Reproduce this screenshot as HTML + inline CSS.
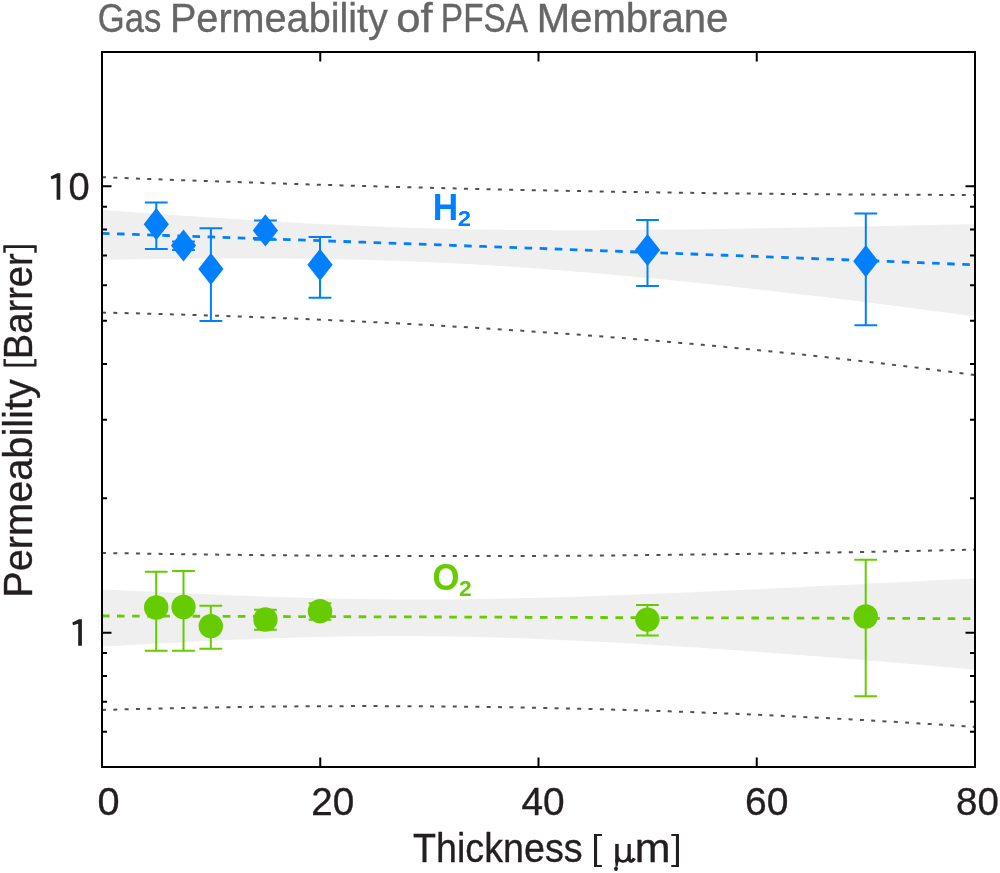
<!DOCTYPE html>
<html><head><meta charset="utf-8"><title>Gas Permeability of PFSA Membrane</title>
<style>
html,body{margin:0;padding:0;background:#fff;}
body{width:1000px;height:873px;overflow:hidden;}
svg{display:block;will-change:transform;font-family:"Liberation Sans",sans-serif;font-kerning:none;font-feature-settings:"kern" 0,"liga" 0;}
</style></head><body>
<svg width="1000" height="873" viewBox="0 0 1000 873">
<rect width="1000" height="873" fill="#fff"/>
<path d="M102 209.93 L107.46 210.32 L112.91 210.71 L118.37 211.1 L123.83 211.49 L129.28 211.88 L134.74 212.27 L140.19 212.65 L145.65 213.04 L151.11 213.42 L156.56 213.8 L162.02 214.18 L167.47 214.56 L172.93 214.94 L178.39 215.31 L183.84 215.68 L189.3 216.05 L194.76 216.42 L200.21 216.79 L205.67 217.15 L211.12 217.51 L216.58 217.87 L222.04 218.22 L227.49 218.58 L232.95 218.93 L238.41 219.27 L243.86 219.62 L249.32 219.96 L254.78 220.29 L260.23 220.63 L265.69 220.96 L271.14 221.28 L276.6 221.6 L282.06 221.92 L287.51 222.23 L292.97 222.54 L298.43 222.84 L303.88 223.14 L309.34 223.43 L314.79 223.72 L320.25 224 L325.71 224.28 L331.16 224.55 L336.62 224.82 L342.07 225.08 L347.53 225.33 L352.99 225.58 L358.44 225.82 L363.9 226.06 L369.36 226.29 L374.81 226.51 L380.27 226.73 L385.73 226.94 L391.18 227.14 L396.64 227.33 L402.09 227.52 L407.55 227.71 L413.01 227.88 L418.46 228.05 L423.92 228.21 L429.38 228.37 L434.83 228.52 L440.29 228.66 L445.74 228.79 L451.2 228.92 L456.66 229.04 L462.11 229.15 L467.57 229.26 L473.02 229.36 L478.48 229.46 L483.94 229.54 L489.39 229.63 L494.85 229.7 L500.31 229.77 L505.76 229.83 L511.22 229.89 L516.67 229.94 L522.13 229.99 L527.59 230.03 L533.04 230.07 L538.5 230.1 L543.96 230.12 L549.41 230.14 L554.87 230.16 L560.33 230.17 L565.78 230.18 L571.24 230.18 L576.69 230.18 L582.15 230.17 L587.61 230.16 L593.06 230.15 L598.52 230.13 L603.98 230.11 L609.43 230.08 L614.89 230.05 L620.34 230.02 L625.8 229.99 L631.26 229.95 L636.71 229.91 L642.17 229.86 L647.62 229.81 L653.08 229.76 L658.54 229.71 L663.99 229.65 L669.45 229.6 L674.91 229.54 L680.36 229.47 L685.82 229.41 L691.27 229.34 L696.73 229.27 L702.19 229.2 L707.64 229.13 L713.1 229.05 L718.56 228.98 L724.01 228.9 L729.47 228.82 L734.92 228.73 L740.38 228.65 L745.84 228.56 L751.29 228.48 L756.75 228.39 L762.21 228.3 L767.66 228.21 L773.12 228.11 L778.58 228.02 L784.03 227.93 L789.49 227.83 L794.94 227.73 L800.4 227.63 L805.86 227.53 L811.31 227.43 L816.77 227.33 L822.23 227.23 L827.68 227.12 L833.14 227.02 L838.59 226.91 L844.05 226.81 L849.51 226.7 L854.96 226.59 L860.42 226.48 L865.88 226.37 L871.33 226.26 L876.79 226.15 L882.24 226.04 L887.7 225.92 L893.16 225.81 L898.61 225.7 L904.07 225.58 L909.52 225.47 L914.98 225.35 L920.44 225.24 L925.89 225.12 L931.35 225 L936.81 224.88 L942.26 224.76 L947.72 224.65 L953.17 224.53 L958.63 224.41 L964.09 224.29 L969.54 224.17 L975 224.04 L975 316.58 L969.54 315.83 L964.09 315.08 L958.63 314.33 L953.17 313.59 L947.72 312.85 L942.26 312.11 L936.81 311.38 L931.35 310.66 L925.89 309.93 L920.44 309.21 L914.98 308.5 L909.52 307.78 L904.07 307.07 L898.61 306.37 L893.16 305.66 L887.7 304.97 L882.24 304.27 L876.79 303.58 L871.33 302.89 L865.88 302.21 L860.42 301.53 L854.96 300.85 L849.51 300.18 L844.05 299.51 L838.59 298.84 L833.14 298.18 L827.68 297.52 L822.23 296.86 L816.77 296.21 L811.31 295.56 L805.86 294.92 L800.4 294.28 L794.94 293.64 L789.49 293.01 L784.03 292.38 L778.58 291.75 L773.12 291.13 L767.66 290.51 L762.21 289.9 L756.75 289.29 L751.29 288.68 L745.84 288.08 L740.38 287.48 L734.92 286.89 L729.47 286.3 L724.01 285.71 L718.56 285.13 L713.1 284.55 L707.64 283.98 L702.19 283.41 L696.73 282.84 L691.27 282.28 L685.82 281.73 L680.36 281.18 L674.91 280.63 L669.45 280.09 L663.99 279.55 L658.54 279.01 L653.08 278.49 L647.62 277.96 L642.17 277.44 L636.71 276.93 L631.26 276.42 L625.8 275.92 L620.34 275.42 L614.89 274.93 L609.43 274.44 L603.98 273.96 L598.52 273.48 L593.06 273.01 L587.61 272.55 L582.15 272.09 L576.69 271.64 L571.24 271.19 L565.78 270.76 L560.33 270.32 L554.87 269.9 L549.41 269.48 L543.96 269.06 L538.5 268.66 L533.04 268.26 L527.59 267.87 L522.13 267.48 L516.67 267.1 L511.22 266.73 L505.76 266.37 L500.31 266.02 L494.85 265.67 L489.39 265.33 L483.94 265 L478.48 264.68 L473.02 264.36 L467.57 264.06 L462.11 263.76 L456.66 263.47 L451.2 263.19 L445.74 262.92 L440.29 262.65 L434.83 262.4 L429.38 262.15 L423.92 261.91 L418.46 261.68 L413.01 261.46 L407.55 261.25 L402.09 261.05 L396.64 260.85 L391.18 260.66 L385.73 260.49 L380.27 260.32 L374.81 260.16 L369.36 260 L363.9 259.86 L358.44 259.72 L352.99 259.59 L347.53 259.47 L342.07 259.36 L336.62 259.25 L331.16 259.16 L325.71 259.06 L320.25 258.98 L314.79 258.9 L309.34 258.83 L303.88 258.77 L298.43 258.71 L292.97 258.66 L287.51 258.62 L282.06 258.58 L276.6 258.55 L271.14 258.52 L265.69 258.5 L260.23 258.49 L254.78 258.48 L249.32 258.47 L243.86 258.47 L238.41 258.48 L232.95 258.49 L227.49 258.5 L222.04 258.52 L216.58 258.55 L211.12 258.57 L205.67 258.61 L200.21 258.64 L194.76 258.68 L189.3 258.73 L183.84 258.77 L178.39 258.82 L172.93 258.88 L167.47 258.93 L162.02 258.99 L156.56 259.06 L151.11 259.12 L145.65 259.19 L140.19 259.26 L134.74 259.34 L129.28 259.42 L123.83 259.5 L118.37 259.58 L112.91 259.66 L107.46 259.75 L102 259.84Z" fill="#EFEFEF"/>
<path d="M102 589.44 L107.46 589.72 L112.91 589.99 L118.37 590.26 L123.83 590.53 L129.28 590.8 L134.74 591.07 L140.19 591.33 L145.65 591.59 L151.11 591.85 L156.56 592.11 L162.02 592.37 L167.47 592.62 L172.93 592.87 L178.39 593.12 L183.84 593.36 L189.3 593.61 L194.76 593.84 L200.21 594.08 L205.67 594.31 L211.12 594.54 L216.58 594.77 L222.04 594.99 L227.49 595.21 L232.95 595.43 L238.41 595.64 L243.86 595.85 L249.32 596.05 L254.78 596.25 L260.23 596.45 L265.69 596.64 L271.14 596.82 L276.6 597 L282.06 597.18 L287.51 597.35 L292.97 597.51 L298.43 597.67 L303.88 597.83 L309.34 597.97 L314.79 598.11 L320.25 598.25 L325.71 598.38 L331.16 598.5 L336.62 598.62 L342.07 598.73 L347.53 598.83 L352.99 598.92 L358.44 599.01 L363.9 599.09 L369.36 599.17 L374.81 599.23 L380.27 599.29 L385.73 599.35 L391.18 599.39 L396.64 599.43 L402.09 599.46 L407.55 599.48 L413.01 599.49 L418.46 599.5 L423.92 599.5 L429.38 599.49 L434.83 599.47 L440.29 599.45 L445.74 599.42 L451.2 599.38 L456.66 599.33 L462.11 599.28 L467.57 599.22 L473.02 599.15 L478.48 599.07 L483.94 598.99 L489.39 598.9 L494.85 598.81 L500.31 598.71 L505.76 598.6 L511.22 598.49 L516.67 598.37 L522.13 598.24 L527.59 598.11 L533.04 597.97 L538.5 597.83 L543.96 597.69 L549.41 597.53 L554.87 597.38 L560.33 597.21 L565.78 597.05 L571.24 596.88 L576.69 596.7 L582.15 596.52 L587.61 596.34 L593.06 596.15 L598.52 595.96 L603.98 595.76 L609.43 595.56 L614.89 595.36 L620.34 595.15 L625.8 594.94 L631.26 594.73 L636.71 594.52 L642.17 594.3 L647.62 594.08 L653.08 593.85 L658.54 593.63 L663.99 593.4 L669.45 593.17 L674.91 592.94 L680.36 592.7 L685.82 592.46 L691.27 592.22 L696.73 591.98 L702.19 591.74 L707.64 591.5 L713.1 591.25 L718.56 591 L724.01 590.75 L729.47 590.5 L734.92 590.25 L740.38 589.99 L745.84 589.74 L751.29 589.48 L756.75 589.23 L762.21 588.97 L767.66 588.71 L773.12 588.45 L778.58 588.18 L784.03 587.92 L789.49 587.66 L794.94 587.39 L800.4 587.13 L805.86 586.86 L811.31 586.59 L816.77 586.32 L822.23 586.06 L827.68 585.79 L833.14 585.52 L838.59 585.25 L844.05 584.98 L849.51 584.7 L854.96 584.43 L860.42 584.16 L865.88 583.89 L871.33 583.61 L876.79 583.34 L882.24 583.07 L887.7 582.79 L893.16 582.52 L898.61 582.24 L904.07 581.96 L909.52 581.69 L914.98 581.41 L920.44 581.14 L925.89 580.86 L931.35 580.58 L936.81 580.31 L942.26 580.03 L947.72 579.75 L953.17 579.47 L958.63 579.2 L964.09 578.92 L969.54 578.64 L975 578.36 L975 669.63 L969.54 669.14 L964.09 668.65 L958.63 668.17 L953.17 667.68 L947.72 667.2 L942.26 666.73 L936.81 666.25 L931.35 665.78 L925.89 665.3 L920.44 664.83 L914.98 664.37 L909.52 663.9 L904.07 663.44 L898.61 662.97 L893.16 662.52 L887.7 662.06 L882.24 661.6 L876.79 661.15 L871.33 660.7 L865.88 660.25 L860.42 659.8 L854.96 659.36 L849.51 658.92 L844.05 658.48 L838.59 658.04 L833.14 657.61 L827.68 657.17 L822.23 656.74 L816.77 656.32 L811.31 655.89 L805.86 655.47 L800.4 655.05 L794.94 654.63 L789.49 654.22 L784.03 653.81 L778.58 653.4 L773.12 652.99 L767.66 652.58 L762.21 652.18 L756.75 651.78 L751.29 651.39 L745.84 651 L740.38 650.61 L734.92 650.22 L729.47 649.84 L724.01 649.46 L718.56 649.08 L713.1 648.7 L707.64 648.33 L702.19 647.97 L696.73 647.6 L691.27 647.24 L685.82 646.89 L680.36 646.53 L674.91 646.18 L669.45 645.84 L663.99 645.5 L658.54 645.16 L653.08 644.83 L647.62 644.5 L642.17 644.17 L636.71 643.85 L631.26 643.54 L625.8 643.23 L620.34 642.92 L614.89 642.62 L609.43 642.32 L603.98 642.03 L598.52 641.74 L593.06 641.46 L587.61 641.19 L582.15 640.92 L576.69 640.65 L571.24 640.39 L565.78 640.14 L560.33 639.89 L554.87 639.65 L549.41 639.42 L543.96 639.19 L538.5 638.97 L533.04 638.76 L527.59 638.55 L522.13 638.35 L516.67 638.16 L511.22 637.98 L505.76 637.8 L500.31 637.63 L494.85 637.47 L489.39 637.32 L483.94 637.17 L478.48 637.04 L473.02 636.91 L467.57 636.79 L462.11 636.68 L456.66 636.58 L451.2 636.48 L445.74 636.4 L440.29 636.32 L434.83 636.26 L429.38 636.2 L423.92 636.15 L418.46 636.11 L413.01 636.08 L407.55 636.06 L402.09 636.05 L396.64 636.05 L391.18 636.06 L385.73 636.07 L380.27 636.1 L374.81 636.13 L369.36 636.18 L363.9 636.23 L358.44 636.29 L352.99 636.36 L347.53 636.44 L342.07 636.53 L336.62 636.62 L331.16 636.72 L325.71 636.84 L320.25 636.96 L314.79 637.08 L309.34 637.22 L303.88 637.36 L298.43 637.51 L292.97 637.67 L287.51 637.84 L282.06 638.01 L276.6 638.19 L271.14 638.37 L265.69 638.56 L260.23 638.76 L254.78 638.97 L249.32 639.18 L243.86 639.39 L238.41 639.62 L232.95 639.85 L227.49 640.08 L222.04 640.32 L216.58 640.56 L211.12 640.81 L205.67 641.07 L200.21 641.33 L194.76 641.59 L189.3 641.86 L183.84 642.13 L178.39 642.41 L172.93 642.69 L167.47 642.98 L162.02 643.27 L156.56 643.56 L151.11 643.86 L145.65 644.16 L140.19 644.46 L134.74 644.77 L129.28 645.09 L123.83 645.4 L118.37 645.72 L112.91 646.04 L107.46 646.37 L102 646.7Z" fill="#EFEFEF"/>
<path d="M102 177.19 L112.91 177.61 L123.83 178.03 L134.74 178.44 L145.65 178.84 L156.56 179.25 L167.47 179.65 L178.39 180.04 L189.3 180.43 L200.21 180.82 L211.12 181.2 L222.04 181.58 L232.95 181.95 L243.86 182.32 L254.78 182.68 L265.69 183.04 L276.6 183.39 L287.51 183.74 L298.43 184.08 L309.34 184.42 L320.25 184.75 L331.16 185.08 L342.07 185.4 L352.99 185.72 L363.9 186.03 L374.81 186.34 L385.73 186.64 L396.64 186.93 L407.55 187.22 L418.46 187.51 L429.38 187.79 L440.29 188.06 L451.2 188.33 L462.11 188.6 L473.02 188.85 L483.94 189.11 L494.85 189.35 L505.76 189.59 L516.67 189.83 L527.59 190.06 L538.5 190.28 L549.41 190.5 L560.33 190.72 L571.24 190.93 L582.15 191.13 L593.06 191.33 L603.98 191.52 L614.89 191.7 L625.8 191.88 L636.71 192.06 L647.62 192.23 L658.54 192.39 L669.45 192.55 L680.36 192.71 L691.27 192.86 L702.19 193 L713.1 193.14 L724.01 193.27 L734.92 193.4 L745.84 193.52 L756.75 193.64 L767.66 193.75 L778.58 193.86 L789.49 193.96 L800.4 194.06 L811.31 194.15 L822.23 194.24 L833.14 194.32 L844.05 194.4 L854.96 194.48 L865.88 194.55 L876.79 194.61 L887.7 194.67 L898.61 194.73 L909.52 194.78 L920.44 194.83 L931.35 194.87 L942.26 194.91 L953.17 194.94 L964.09 194.98 L975 195" fill="none" stroke="#505050" stroke-width="2" stroke-dasharray="4 7.316" stroke-dashoffset="0"/>
<path d="M102 312.54 L112.91 312.79 L123.83 313.05 L134.74 313.33 L145.65 313.61 L156.56 313.91 L167.47 314.21 L178.39 314.53 L189.3 314.85 L200.21 315.19 L211.12 315.54 L222.04 315.9 L232.95 316.28 L243.86 316.66 L254.78 317.05 L265.69 317.46 L276.6 317.88 L287.51 318.31 L298.43 318.76 L309.34 319.21 L320.25 319.68 L331.16 320.16 L342.07 320.66 L352.99 321.16 L363.9 321.68 L374.81 322.21 L385.73 322.76 L396.64 323.32 L407.55 323.89 L418.46 324.48 L429.38 325.08 L440.29 325.69 L451.2 326.32 L462.11 326.96 L473.02 327.61 L483.94 328.28 L494.85 328.97 L505.76 329.67 L516.67 330.38 L527.59 331.11 L538.5 331.85 L549.41 332.61 L560.33 333.38 L571.24 334.17 L582.15 334.97 L593.06 335.79 L603.98 336.62 L614.89 337.47 L625.8 338.34 L636.71 339.22 L647.62 340.11 L658.54 341.03 L669.45 341.96 L680.36 342.9 L691.27 343.86 L702.19 344.84 L713.1 345.84 L724.01 346.85 L734.92 347.88 L745.84 348.92 L756.75 349.98 L767.66 351.06 L778.58 352.16 L789.49 353.28 L800.4 354.41 L811.31 355.56 L822.23 356.73 L833.14 357.92 L844.05 359.12 L854.96 360.35 L865.88 361.59 L876.79 362.85 L887.7 364.13 L898.61 365.43 L909.52 366.75 L920.44 368.09 L931.35 369.45 L942.26 370.83 L953.17 372.23 L964.09 373.65 L975 375.09" fill="none" stroke="#505050" stroke-width="2" stroke-dasharray="4 7.316" stroke-dashoffset="0"/>
<path d="M102 552.93 L112.91 553.12 L123.83 553.3 L134.74 553.47 L145.65 553.64 L156.56 553.81 L167.47 553.97 L178.39 554.12 L189.3 554.27 L200.21 554.42 L211.12 554.55 L222.04 554.68 L232.95 554.81 L243.86 554.93 L254.78 555.04 L265.69 555.15 L276.6 555.25 L287.51 555.35 L298.43 555.44 L309.34 555.52 L320.25 555.6 L331.16 555.67 L342.07 555.74 L352.99 555.8 L363.9 555.85 L374.81 555.9 L385.73 555.94 L396.64 555.98 L407.55 556.01 L418.46 556.03 L429.38 556.04 L440.29 556.05 L451.2 556.06 L462.11 556.06 L473.02 556.05 L483.94 556.03 L494.85 556.01 L505.76 555.98 L516.67 555.95 L527.59 555.91 L538.5 555.87 L549.41 555.82 L560.33 555.76 L571.24 555.69 L582.15 555.63 L593.06 555.55 L603.98 555.47 L614.89 555.38 L625.8 555.29 L636.71 555.19 L647.62 555.09 L658.54 554.98 L669.45 554.86 L680.36 554.74 L691.27 554.61 L702.19 554.48 L713.1 554.34 L724.01 554.2 L734.92 554.05 L745.84 553.9 L756.75 553.74 L767.66 553.58 L778.58 553.41 L789.49 553.24 L800.4 553.06 L811.31 552.88 L822.23 552.69 L833.14 552.5 L844.05 552.3 L854.96 552.1 L865.88 551.9 L876.79 551.69 L887.7 551.47 L898.61 551.25 L909.52 551.03 L920.44 550.8 L931.35 550.57 L942.26 550.34 L953.17 550.1 L964.09 549.86 L975 549.61" fill="none" stroke="#505050" stroke-width="2" stroke-dasharray="4 7.316" stroke-dashoffset="0"/>
<path d="M102 709.98 L112.91 709.67 L123.83 709.37 L134.74 709.09 L145.65 708.81 L156.56 708.56 L167.47 708.31 L178.39 708.08 L189.3 707.86 L200.21 707.65 L211.12 707.45 L222.04 707.27 L232.95 707.1 L243.86 706.95 L254.78 706.81 L265.69 706.68 L276.6 706.56 L287.51 706.46 L298.43 706.37 L309.34 706.29 L320.25 706.23 L331.16 706.18 L342.07 706.14 L352.99 706.12 L363.9 706.11 L374.81 706.12 L385.73 706.13 L396.64 706.17 L407.55 706.21 L418.46 706.27 L429.38 706.34 L440.29 706.43 L451.2 706.52 L462.11 706.64 L473.02 706.76 L483.94 706.9 L494.85 707.06 L505.76 707.22 L516.67 707.4 L527.59 707.6 L538.5 707.8 L549.41 708.02 L560.33 708.26 L571.24 708.51 L582.15 708.77 L593.06 709.04 L603.98 709.33 L614.89 709.63 L625.8 709.95 L636.71 710.28 L647.62 710.62 L658.54 710.97 L669.45 711.34 L680.36 711.72 L691.27 712.12 L702.19 712.52 L713.1 712.95 L724.01 713.38 L734.92 713.83 L745.84 714.29 L756.75 714.76 L767.66 715.25 L778.58 715.75 L789.49 716.26 L800.4 716.79 L811.31 717.33 L822.23 717.88 L833.14 718.45 L844.05 719.02 L854.96 719.62 L865.88 720.22 L876.79 720.84 L887.7 721.47 L898.61 722.11 L909.52 722.76 L920.44 723.43 L931.35 724.11 L942.26 724.8 L953.17 725.51 L964.09 726.23 L975 726.96" fill="none" stroke="#505050" stroke-width="2" stroke-dasharray="4 7.316" stroke-dashoffset="0"/>
<path d="M102 233.28 L112.91 233.65 L123.83 234.01 L134.74 234.38 L145.65 234.74 L156.56 235.11 L167.47 235.48 L178.39 235.85 L189.3 236.22 L200.21 236.59 L211.12 236.96 L222.04 237.33 L232.95 237.7 L243.86 238.07 L254.78 238.45 L265.69 238.82 L276.6 239.2 L287.51 239.57 L298.43 239.95 L309.34 240.33 L320.25 240.7 L331.16 241.08 L342.07 241.46 L352.99 241.84 L363.9 242.22 L374.81 242.6 L385.73 242.99 L396.64 243.37 L407.55 243.75 L418.46 244.14 L429.38 244.52 L440.29 244.91 L451.2 245.3 L462.11 245.68 L473.02 246.07 L483.94 246.46 L494.85 246.85 L505.76 247.24 L516.67 247.63 L527.59 248.03 L538.5 248.42 L549.41 248.81 L560.33 249.21 L571.24 249.6 L582.15 250 L593.06 250.4 L603.98 250.8 L614.89 251.2 L625.8 251.59 L636.71 252 L647.62 252.4 L658.54 252.8 L669.45 253.2 L680.36 253.61 L691.27 254.01 L702.19 254.42 L713.1 254.82 L724.01 255.23 L734.92 255.64 L745.84 256.05 L756.75 256.46 L767.66 256.87 L778.58 257.28 L789.49 257.69 L800.4 258.1 L811.31 258.52 L822.23 258.93 L833.14 259.35 L844.05 259.77 L854.96 260.18 L865.88 260.6 L876.79 261.02 L887.7 261.44 L898.61 261.87 L909.52 262.29 L920.44 262.71 L931.35 263.14 L942.26 263.56 L953.17 263.99 L964.09 264.41 L975 264.84" fill="none" stroke="#0080FF" stroke-width="2.8" stroke-dasharray="7.6 7.504" stroke-dashoffset="0.1"/>
<path d="M102 615.96 L112.91 616 L123.83 616.03 L134.74 616.07 L145.65 616.1 L156.56 616.13 L167.47 616.17 L178.39 616.2 L189.3 616.23 L200.21 616.27 L211.12 616.3 L222.04 616.33 L232.95 616.37 L243.86 616.4 L254.78 616.44 L265.69 616.47 L276.6 616.5 L287.51 616.54 L298.43 616.57 L309.34 616.6 L320.25 616.64 L331.16 616.67 L342.07 616.71 L352.99 616.74 L363.9 616.77 L374.81 616.81 L385.73 616.84 L396.64 616.87 L407.55 616.91 L418.46 616.94 L429.38 616.98 L440.29 617.01 L451.2 617.04 L462.11 617.08 L473.02 617.11 L483.94 617.14 L494.85 617.18 L505.76 617.21 L516.67 617.25 L527.59 617.28 L538.5 617.31 L549.41 617.35 L560.33 617.38 L571.24 617.42 L582.15 617.45 L593.06 617.48 L603.98 617.52 L614.89 617.55 L625.8 617.58 L636.71 617.62 L647.62 617.65 L658.54 617.69 L669.45 617.72 L680.36 617.75 L691.27 617.79 L702.19 617.82 L713.1 617.86 L724.01 617.89 L734.92 617.92 L745.84 617.96 L756.75 617.99 L767.66 618.03 L778.58 618.06 L789.49 618.09 L800.4 618.13 L811.31 618.16 L822.23 618.2 L833.14 618.23 L844.05 618.26 L854.96 618.3 L865.88 618.33 L876.79 618.37 L887.7 618.4 L898.61 618.43 L909.52 618.47 L920.44 618.5 L931.35 618.54 L942.26 618.57 L953.17 618.6 L964.09 618.64 L975 618.67" fill="none" stroke="#66CC00" stroke-width="2.8" stroke-dasharray="7.6 7.504" stroke-dashoffset="0.1"/>
<path d="M156.3 202.6V249.1M144.9 202.6H167.7M144.9 249.1H167.7" stroke="#0080FF" stroke-width="2" fill="none"/>
<path d="M183.5 241.6V249.9M172.1 241.6H194.9M172.1 249.9H194.9" stroke="#0080FF" stroke-width="2" fill="none"/>
<path d="M210.9 228.2V321.1M199.5 228.2H222.3M199.5 321.1H222.3" stroke="#0080FF" stroke-width="2" fill="none"/>
<path d="M265.4 220.6V239.7M254 220.6H276.8M254 239.7H276.8" stroke="#0080FF" stroke-width="2" fill="none"/>
<path d="M320 237.1V297.8M308.6 237.1H331.4M308.6 297.8H331.4" stroke="#0080FF" stroke-width="2" fill="none"/>
<path d="M647.5 219.9V286.1M636.1 219.9H658.9M636.1 286.1H658.9" stroke="#0080FF" stroke-width="2" fill="none"/>
<path d="M865.8 213.6V325.2M854.4 213.6H877.2M854.4 325.2H877.2" stroke="#0080FF" stroke-width="2" fill="none"/>
<path d="M156.3 208.1L168.9 224.2L156.3 240.3L143.7 224.2Z" fill="#0080FF"/>
<path d="M183.5 229.4L196.1 245.5L183.5 261.6L170.9 245.5Z" fill="#0080FF"/>
<path d="M210.9 252.9L223.5 269L210.9 285.1L198.3 269Z" fill="#0080FF"/>
<path d="M265.4 214.3L278 230.4L265.4 246.5L252.8 230.4Z" fill="#0080FF"/>
<path d="M320 248.7L332.6 264.8L320 280.9L307.4 264.8Z" fill="#0080FF"/>
<path d="M647.5 233.9L660.1 250L647.5 266.1L634.9 250Z" fill="#0080FF"/>
<path d="M865.8 245.1L878.4 261.2L865.8 277.3L853.2 261.2Z" fill="#0080FF"/>
<path d="M156.2 571.8V650.8M144.8 571.8H167.6M144.8 650.8H167.6" stroke="#66CC00" stroke-width="2" fill="none"/>
<path d="M183.5 571.1V650.8M172.1 571.1H194.9M172.1 650.8H194.9" stroke="#66CC00" stroke-width="2" fill="none"/>
<path d="M210.8 605.8V648.8M199.4 605.8H222.2M199.4 648.8H222.2" stroke="#66CC00" stroke-width="2" fill="none"/>
<path d="M265.4 609.8V629.8M254 609.8H276.8M254 629.8H276.8" stroke="#66CC00" stroke-width="2" fill="none"/>
<path d="M320 603.2V619.8M308.6 603.2H331.4M308.6 619.8H331.4" stroke="#66CC00" stroke-width="2" fill="none"/>
<path d="M647.4 605V635.6M636 605H658.8M636 635.6H658.8" stroke="#66CC00" stroke-width="2" fill="none"/>
<path d="M865.7 559.7V696.2M854.3 559.7H877.1M854.3 696.2H877.1" stroke="#66CC00" stroke-width="2" fill="none"/>
<circle cx="156.2" cy="607.5" r="12.2" fill="#66CC00"/>
<circle cx="183.5" cy="607" r="12.2" fill="#66CC00"/>
<circle cx="210.8" cy="626.1" r="12.2" fill="#66CC00"/>
<circle cx="265.4" cy="619.5" r="12.2" fill="#66CC00"/>
<circle cx="320" cy="611.2" r="12.2" fill="#66CC00"/>
<circle cx="647.4" cy="619.6" r="12.2" fill="#66CC00"/>
<circle cx="865.7" cy="616.5" r="12.2" fill="#66CC00"/>
<path d="M102 767H107M975 767H970M102 731.66H107M975 731.66H970M102 701.78H107M975 701.78H970M102 675.9H107M975 675.9H970M102 653.07H107M975 653.07H970M102 632.65H111.5M975 632.65H965.5M102 498.3H107M975 498.3H970M102 419.71H107M975 419.71H970M102 363.95H107M975 363.95H970M102 320.7H107M975 320.7H970M102 285.36H107M975 285.36H970M102 255.48H107M975 255.48H970M102 229.6H107M975 229.6H970M102 206.77H107M975 206.77H970M102 186.35H111.5M975 186.35H965.5M320.25 52V61.5M320.25 767V757.5M538.5 52V61.5M538.5 767V757.5M756.75 52V61.5M756.75 767V757.5" stroke="#000" stroke-width="2" fill="none"/>
<rect x="102" y="52" width="873" height="715" fill="none" stroke="#000" stroke-width="2"/>
<text x="97.76" y="31.6" font-size="40" fill="#666666" stroke="#666666" stroke-width="0.35" textLength="63.49" lengthAdjust="spacingAndGlyphs">Gas</text>
<text x="169.95" y="31.6" font-size="40" fill="#666666" stroke="#666666" stroke-width="0.35" textLength="217.93" lengthAdjust="spacingAndGlyphs">Permeability</text>
<text x="396.37" y="31.6" font-size="40" fill="#666666" stroke="#666666" stroke-width="0.35" textLength="36.37" lengthAdjust="spacingAndGlyphs">of</text>
<text x="440.86" y="31.6" font-size="40" fill="#666666" stroke="#666666" stroke-width="0.35" textLength="87.2" lengthAdjust="spacingAndGlyphs">PFSA</text>
<text x="536.71" y="31.6" font-size="40" fill="#666666" stroke="#666666" stroke-width="0.35" textLength="191.57" lengthAdjust="spacingAndGlyphs">Membrane</text>
<path d="M60.3 173.2L60.3 199.8L56.6 199.8L56.6 177.8L51.4 179.2L50.7 176.6L57.3 173.2Z" fill="#231F20"/>
<text x="68.41" y="200" font-size="39.6" fill="#231F20" stroke="#231F20" stroke-width="0.35" textLength="21.17" lengthAdjust="spacingAndGlyphs">0</text>
<path d="M81.9 619.2L81.9 645.8L78.2 645.8L78.2 623.8L73 625.2L72.3 622.6L78.9 619.2Z" fill="#231F20"/>
<text x="97.45" y="814.7" font-size="39.6" fill="#231F20" stroke="#231F20" stroke-width="0.35" textLength="22.11" lengthAdjust="spacingAndGlyphs">0</text>
<text x="311.25" y="814.7" font-size="39.6" fill="#231F20" stroke="#231F20" stroke-width="0.35" textLength="43.06" lengthAdjust="spacingAndGlyphs">20</text>
<text x="521.41" y="814.7" font-size="39.6" fill="#231F20" stroke="#231F20" stroke-width="0.35" textLength="43.21" lengthAdjust="spacingAndGlyphs">40</text>
<text x="745.12" y="814.7" font-size="39.6" fill="#231F20" stroke="#231F20" stroke-width="0.35" textLength="43.41" lengthAdjust="spacingAndGlyphs">60</text>
<text x="956.03" y="814.7" font-size="39.6" fill="#231F20" stroke="#231F20" stroke-width="0.35" textLength="42.77" lengthAdjust="spacingAndGlyphs">80</text>
<text x="413.05" y="862.2" font-size="40" fill="#231F20" stroke="#231F20" stroke-width="0.35" textLength="169.51" lengthAdjust="spacingAndGlyphs">Thickness</text>
<path d="M594 833.9H601.9V836H597.1V864.9H601.9V867H594Z" fill="#231F20"/>
<text x="634.85" y="862.2" font-size="40" fill="#231F20" stroke="#231F20" stroke-width="0.35" textLength="35.78" lengthAdjust="spacingAndGlyphs">m</text>
<g fill="none" stroke="#231F20"><path d="M616.95 843.9V862" stroke-width="3.5"/><path d="M629.15 843.9V857.5C629.15 862 632 862.6 634.3 858.3" stroke-width="3.3"/><path d="M617.6 856.3C619.6 863.2 626.8 863.2 629.2 855.3" stroke-width="2.6"/></g>
<path d="M615.2 860L618.7 860L617.6 866.5L615.6 866.5Z" fill="#231F20"/><ellipse cx="616" cy="868.7" rx="1.95" ry="2.2" fill="#231F20"/>
<path d="M679 833.9H671.3V836H675.9V864.9H671.3V867H679Z" fill="#231F20"/>
<text transform="translate(32 0) rotate(-90)" x="-597.86" y="0" font-size="40" fill="#231F20" stroke="#231F20" stroke-width="0.35" textLength="218.74" lengthAdjust="spacingAndGlyphs">Permeability</text>
<text transform="translate(32 0) rotate(-90)" x="-359.23" y="0" font-size="40" fill="#231F20" stroke="#231F20" stroke-width="0.35" textLength="105.96" lengthAdjust="spacingAndGlyphs">Barrer</text>
<path d="M3.5 366.6H36.5V359H34.2V363.8H5.8V359H3.5Z" fill="#231F20"/>
<path d="M3.3 245.3H36.7V252.7H34.3V247.9H5.7V252.7H3.3Z" fill="#231F20"/>
<text x="432.64" y="220.2" font-size="36.6" font-weight="bold" fill="#0080FF" textLength="25.43" lengthAdjust="spacingAndGlyphs">H</text>
<text x="457.67" y="225.7" font-size="22" font-weight="bold" fill="#0080FF" textLength="13.28" lengthAdjust="spacingAndGlyphs">2</text>
<text x="432.58" y="590.2" font-size="37" font-weight="bold" fill="#66CC00" textLength="26.98" lengthAdjust="spacingAndGlyphs">O</text>
<text x="458.91" y="595.6" font-size="22" font-weight="bold" fill="#66CC00" textLength="12.71" lengthAdjust="spacingAndGlyphs">2</text>
</svg>
</body></html>
